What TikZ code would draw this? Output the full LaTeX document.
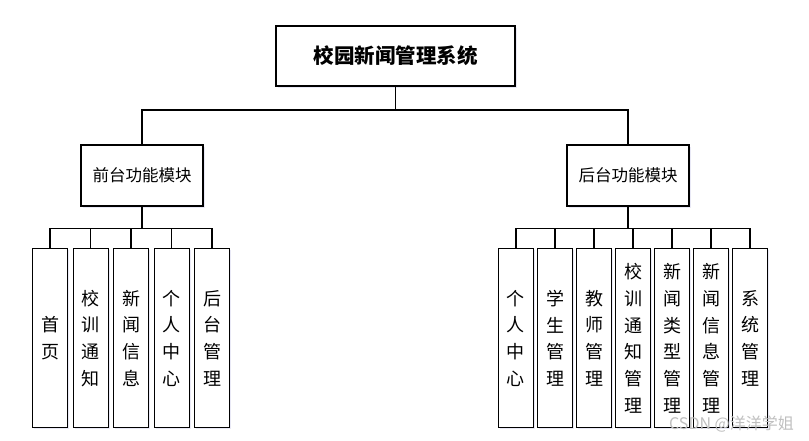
\documentclass[tikz,border=0pt]{standalone}
\usepackage{fontspec}
\setmainfont{Noto Sans CJK SC}
\usetikzlibrary{shadows}
\begin{document}
\begin{tikzpicture}[x=1pt,y=-1pt,
  box/.style={draw=black,line width=1.4pt,fill=white,inner sep=0pt,
    drop shadow={opacity=0.12,shadow xshift=1.5pt,shadow yshift=-1.5pt,fill=blue!40!gray}},
  topbox/.style={box,minimum width=239pt,minimum height=60pt,font=\fontsize{20.5}{24}\selectfont\bfseries},
  modbox/.style={box,minimum width=122pt,minimum height=61pt,font=\fontsize{16.5}{20}\selectfont},
  leaf/.style={box,minimum width=35pt,minimum height=179pt,anchor=north,align=center,
    font=\fontsize{18}{26.7}\selectfont},
  conn/.style={line width=1.4pt}]
\useasboundingbox (0,0) rectangle (809,440);
\node[topbox] (top) at (395.5,56) {校园新闻管理系统};
\node[modbox] (front) at (142,175.5) {前台功能模块};
\node[modbox] (back) at (628,175.5) {后台功能模块};
\coordinate (bus) at (0,110);
\coordinate (lbus) at (0,228.5);
\foreach \n/\x/\t in {f1/50/{首\\页},f2/90.7/{校\\训\\通\\知},f3/131/{新\\闻\\信\\息},f4/171.7/{个\\人\\中\\心},f5/212/{后\\台\\管\\理}}{
  \node[leaf] (\n) at (\x,248) {\t};
}
\foreach \n/\x/\t in {b1/515.8/{个\\人\\中\\心},b2/555/{学\\生\\管\\理},b3/594/{教\\师\\管\\理},b4/633/{校\\训\\通\\知\\管\\理},b5/672/{新\\闻\\类\\型\\管\\理},b6/711/{新\\闻\\信\\息\\管\\理},b7/750/{系\\统\\管\\理}}{
  \node[leaf] (\n) at (\x,248) {\t};
}
\draw[conn] (top.south) -- (top.south |- bus) -| (front.north);
\draw[conn] (top.south |- bus) -| (back.north);
\foreach \n in {f1,f2,f3,f4,f5}{
  \draw[conn] (front.south) -- (front.south |- lbus) -| (\n.north);
}
\foreach \n in {b1,b2,b3,b4,b5,b6,b7}{
  \draw[conn] (back.south) -- (back.south |- lbus) -| (\n.north);
}
\node[text=gray!50,font=\fontsize{16}{18}\selectfont,anchor=east,inner sep=0pt] (wm) at (794,424) {CSDN @洋洋学姐};
\end{tikzpicture}
\end{document}
